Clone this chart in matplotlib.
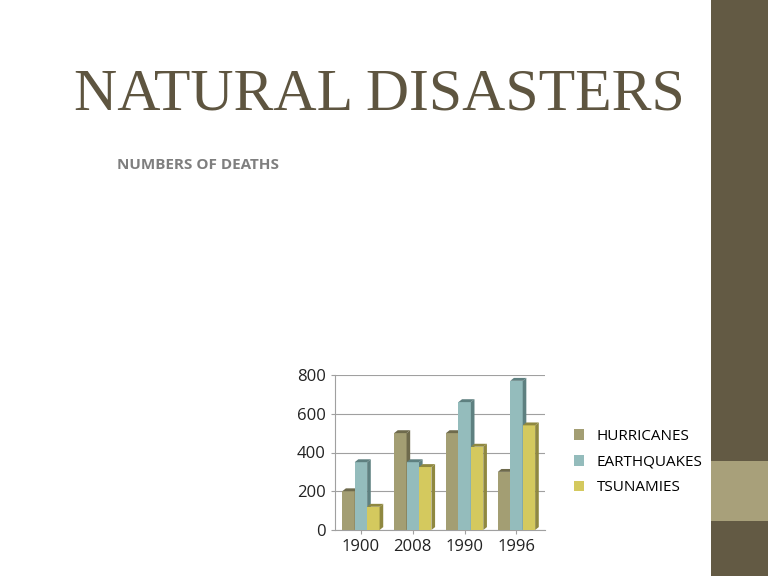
import matplotlib.pyplot as plt
from matplotlib.patches import Polygon, Rectangle
import numpy as np

years = ["1900", "2008", "1990", "1996"]
series = ["HURRICANES", "EARTHQUAKES", "TSUNAMIES"]
hurricanes = [200, 500, 500, 300]
earthquakes = [350, 350, 660, 770]
tsunamis = [120, 325, 430, 540]

colors = ["#a39e73", "#94bcbc", "#d4c95e"]
side_colors = ["#6e6a4c", "#5e8080", "#8f8840"]

fig = plt.figure(figsize=(7.68, 5.76), dpi=100)
fig.patch.set_facecolor("white")

# right side decorative band
fig.patches.append(Rectangle((711/768, 0), 57/768, 1, transform=fig.transFigure,
                             facecolor="#635a44", edgecolor="none"))
fig.patches.append(Rectangle((711/768, 55/576), 57/768, 60/576, transform=fig.transFigure,
                             facecolor="#a8a07a", edgecolor="none"))

fig.text(74/768, 1 - 95/576, "NATURAL DISASTERS", fontsize=43, family="Liberation Serif",
         color="#5e5540", va="center", ha="left")
fig.text(117/768, 1 - 165/576, "NUMBERS OF DEATHS", fontsize=11, fontweight="bold",
         color="#7f7f7f", family="Open Sans", va="center")

ax = fig.add_axes([335/768, 46/576, 210/768, 155/576])
x = np.arange(len(years))
w = 0.24
dx, dy = 0.07, 15
for i, (name, vals) in enumerate(zip(series, [hurricanes, earthquakes, tsunamis])):
    pos = x + (i - 1) * w
    bars = ax.bar(pos, vals, w, color=colors[i], label=name, zorder=3 + i)
    for b in bars:
        x0, x1, h = b.get_x(), b.get_x() + b.get_width(), b.get_height()
        ax.add_patch(Polygon([(x1, 0), (x1 + dx, dy), (x1 + dx, h + dy), (x1, h)],
                             facecolor=side_colors[i], edgecolor="none", zorder=3 + i))
        ax.add_patch(Polygon([(x0, h), (x0 + dx, h + dy), (x1 + dx, h + dy), (x1, h)],
                             facecolor=side_colors[i], edgecolor="none", zorder=3 + i))

ax.set_ylim(0, 800)
ax.set_xlim(-0.5, 3.55)
ax.set_yticks([0, 200, 400, 600, 800])
ax.set_xticks(x)
ax.set_xticklabels(years)
ax.yaxis.grid(True, color="#a0a0a0", lw=0.8, zorder=0)
for s in ["top", "right"]:
    ax.spines[s].set_visible(False)
ax.spines["left"].set_color("#a0a0a0")
ax.spines["bottom"].set_color("#a0a0a0")
ax.tick_params(colors="#a0a0a0", labelcolor="#222222", labelsize=12, length=3)
ax.set_facecolor("none")
for t in ax.get_xticklabels() + ax.get_yticklabels():
    t.set_family("Open Sans")

leg = fig.legend(loc="center left", bbox_to_anchor=(560/768, 1 - 462/576), frameon=False,
                 prop={"family": "Open Sans", "size": 11}, handlelength=0.7,
                 handleheight=0.7, labelspacing=0.7)

fig.savefig("out.png", dpi=100)
